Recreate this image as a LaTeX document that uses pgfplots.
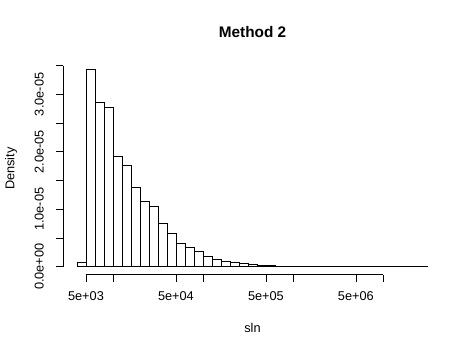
\documentclass[border=0pt]{standalone}
\usepackage{pgfplots}
\pgfplotsset{compat=1.18}
\usepackage{fontspec}
\setmainfont{Liberation Sans}
\begin{document}
\fontsize{12.8}{15}\selectfont
\begin{tikzpicture}[x=1bp,y=1bp]
\useasboundingbox (0,0) rectangle (474,353);
\begin{axis}[
  at={(63bp,78.5bp)}, anchor=south west,
  scale only axis, width=379bp, height=212bp,
  xmode=log, xmin=2780, xmax=45290000,
  ymin=-0.136e-5, ymax=3.556e-5,
  axis line style={draw=none},
  xtick pos=bottom, ytick pos=left,
  xtick={5000,10000,50000,100000,500000,1000000,5000000,10000000},
  xticklabels={5e+03,,5e+04,,5e+05,,5e+06,},
  ytick={0,0.5e-5,1e-5,1.5e-5,2e-5,2.5e-5,3e-5,3.5e-5},
  yticklabels={0.0e+00,,1.0e-05,,2.0e-05,,3.0e-05,},
  scaled y ticks=false,
  xminorticks=false, yminorticks=false,
  tick align=outside, major tick length=7bp,
  tick style={black, line width=0.8bp},
  /pgf/number format/assume math mode=true,
  xticklabel style={anchor=north, inner sep=0pt, yshift=-10bp},
  yticklabel style={xshift=-12bp, rotate=90, anchor=south, inner sep=0pt},
  clip=false,
]
\addplot[ybar interval, draw=black, fill=white, line width=0.8bp] coordinates {
(3981.07, 0.077e-5)
(5011.87, 3.43e-5)
(6309.57, 2.855e-5)
(7943.28, 2.78e-5)
(10000, 1.92e-5)
(12589.25, 1.77e-5)
(15848.93, 1.38e-5)
(19952.62, 1.13e-5)
(25118.86, 1.044e-5)
(31622.78, 0.746e-5)
(39810.72, 0.584e-5)
(50118.72, 0.397e-5)
(63095.73, 0.339e-5)
(79432.82, 0.269e-5)
(100000, 0.175e-5)
(125892.5, 0.129e-5)
(158489.3, 0.094e-5)
(199526.2, 0.077e-5)
(251188.6, 0.052e-5)
(316227.8, 0.035e-5)
(398107.2, 0.022e-5)
(501187.2, 0.015e-5)
(630957.3, 0.012e-5)
(794328.2, 0)
(1000000, 0)
(1258925, 0)
(1584893, 0)
(1995262, 0)
(2511886, 0)
(3162278, 0)
(3981072, 0)
(5011872, 0)
(6309573, 0)
(7943282, 0)
(10000000, 0)
(12589254, 0)
(15848932, 0)
(19952623, 0)
(25118864, 0)
(31622777, 0)
};
\draw[line width=0.8bp] (axis cs:5000,-0.136e-5) -- (axis cs:10000000,-0.136e-5);
\draw[line width=0.8bp] (axis cs:2780,0) -- (axis cs:2780,3.5e-5);
\end{axis}
\node[font=\bfseries\fontsize{15.4}{18}\selectfont] at (252.5,321) {Method 2};
\node at (252.5,25) {sln};
\node[rotate=90] at (11,184.5) {Density};
\end{tikzpicture}
\end{document}
